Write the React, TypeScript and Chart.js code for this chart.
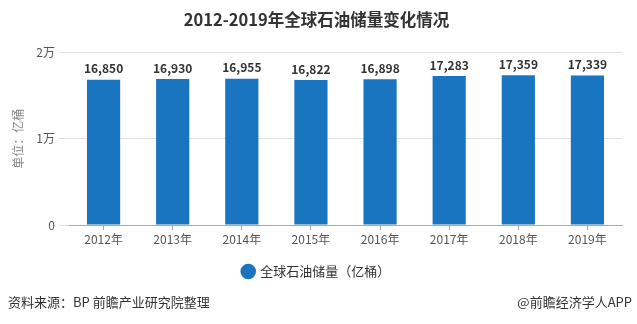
import React, { useEffect, useRef } from "react";
import { Chart, registerables } from "chart.js";

Chart.register(...registerables);

const categories = ["2012年", "2013年", "2014年", "2015年", "2016年", "2017年", "2018年", "2019年"];
const reserves = [16850, 16930, 16955, 16822, 16898, 17283, 17359, 17339];
const yTickValues = [0, 10000, 20000];
const yTickLabels = ["0", "1万", "2万"];
const titleText = "2012-2019年全球石油储量变化情况";
const seriesName = "全球石油储量（亿桶）";
const yAxisTitle = "单位：亿桶";
const sourceText = "资料来源：BP 前瞻产业研究院整理";
const brandText = "@前瞻经济学人APP";

const FONT = "'Noto Sans CJK SC', 'Microsoft YaHei', sans-serif";
const BAR_COLOR = "#1a75c1";

const extrasPlugin = {
  id: "extras",
  afterDatasetsDraw(chart: any) {
    const ctx = chart.ctx;
    const meta = chart.getDatasetMeta(0);
    ctx.save();
    ctx.font = `bold 12px ${FONT}`;
    ctx.fillStyle = "#333333";
    ctx.textAlign = "center";
    ctx.textBaseline = "bottom";
    meta.data.forEach((bar: any, i: number) => {
      ctx.fillText(reserves[i].toLocaleString("en-US"), bar.x, bar.y - 5);
    });
    ctx.restore();
  },
  afterDraw(chart: any) {
    const ctx = chart.ctx;
    ctx.save();
    ctx.font = `13px ${FONT}`;
    ctx.fillStyle = "#333333";
    ctx.textBaseline = "middle";
    ctx.textAlign = "left";
    ctx.fillText(sourceText, 8, 302);
    ctx.textAlign = "right";
    ctx.fillText(brandText, 632, 302);
    ctx.restore();
  },
};

export default function App() {
  const ref = useRef<HTMLCanvasElement | null>(null);
  useEffect(() => {
    document.body.style.margin = "0";
    const chart = new Chart(ref.current!, {
      type: "bar",
      data: {
        labels: categories,
        datasets: [
          {
            label: seriesName,
            data: reserves,
            backgroundColor: BAR_COLOR,
            borderWidth: 0,
            barPercentage: 0.48,
            categoryPercentage: 1,
          },
        ],
      },
      options: {
        responsive: false,
        animation: false,
        maintainAspectRatio: false,
        layout: { padding: { left: 11, right: 15, top: 0, bottom: 36 } },
        plugins: {
          title: {
            display: true,
            text: titleText,
            color: "#333333",
            font: { family: FONT, size: 16.5, weight: "bold" },
            padding: { top: 10, bottom: 22.8 },
          },
          legend: {
            position: "bottom",
            labels: {
              usePointStyle: true,
              pointStyle: "circle",
              boxWidth: 11,
              boxHeight: 11,
              color: "#333333",
              font: { family: FONT, size: 13 },
              padding: 10,
            },
          },
          tooltip: { enabled: false },
        },
        scales: {
          x: {
            grid: {
              display: true,
              offset: false,
              drawOnChartArea: false,
              drawTicks: true,
              tickLength: 5,
              color: "#aaaaaa",
            },
            border: { color: "#aaaaaa" },
            ticks: { color: "#555555", font: { family: FONT, size: 12 }, padding: 2 },
            afterFit(scale: any) {
              scale.height = 30;
            },
          },
          y: {
            min: 0,
            max: 20000,
            afterBuildTicks(scale: any) {
              scale.ticks = yTickValues.map((v) => ({ value: v }));
            },
            ticks: {
              color: "#555555",
              font: { family: FONT, size: 12 },
              padding: 4,
              callback: (v: any) => {
                const idx = yTickValues.indexOf(Number(v));
                return idx >= 0 ? yTickLabels[idx] : "";
              },
            },
            grid: { color: "#e0e0e0", drawTicks: true, tickLength: 10 },
            border: { display: false },
            title: {
              display: true,
              text: yAxisTitle,
              color: "#888888",
              font: { family: FONT, size: 12 },
              padding: { top: 0, bottom: 0 },
            },
            afterFit(scale: any) {
              scale.width = 58;
            },
          },
        },
      },
      plugins: [extrasPlugin],
    });
    return () => chart.destroy();
  }, []);
  return (
    <div style={{ position: "fixed", left: 0, top: 0, width: 637, height: 324, background: "#fff" }}>
      <canvas ref={ref} width={637} height={324} style={{ width: 637, height: 324 }} />
    </div>
  );
}
